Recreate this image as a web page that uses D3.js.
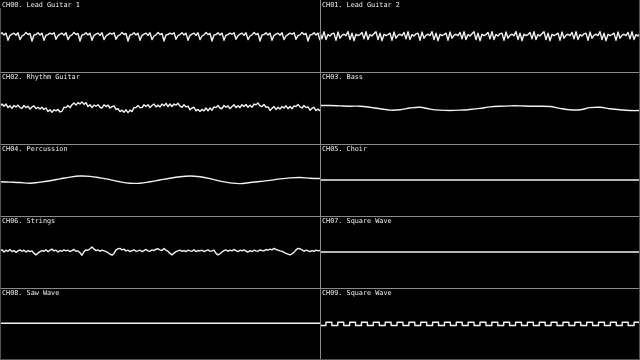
<!DOCTYPE html>
<html>
<head>
<meta charset="utf-8">
<script src="https://cdn.jsdelivr.net/npm/d3@7"></script>
<style>
  html, body { margin: 0; padding: 0; background: #000; }
  svg { display: block; }
</style>
</head>
<body>
<script>
// channel labels, left to right, top to bottom
var channelNames = ["CH00. Lead Guitar 1", "CH01. Lead Guitar 2", "CH02. Rhythm Guitar", "CH03. Bass",
    "CH04. Percussion", "CH05. Choir", "CH06. Strings", "CH07. Square Wave",
    "CH08. Saw Wave", "CH09. Square Wave"];

// sample values, -100..100 (positive = down on the scope)
var leadGuitar1 = [
    -4,-9,-3,-8,12,-2, -5,-8,-2,-9,10,0, -3,-10,-4,-7,14,-3, -4,-9,-3,-8,12,-2,
    -4,-8,-5,-9,9,-1, -5,-8,-2,-9,10,0, -3,-10,-4,-7,14,-3, -4,-9,-3,-8,12,-2,
    -5,-8,-2,-9,10,0, -4,-8,-5,-9,9,-1, -3,-10,-4,-7,14,-3, -4,-9,-3,-8,12,-2,
    -5,-8,-2,-9,10,0, -3,-10,-4,-7,14,-3, -4,-8,-5,-9,9,-1, -4,-9,-3,-8,12,-2,
    -5,-8,-2,-9,10,0, -3,-10,-4,-7,14,-3, -4,-9,-3,-8,12,-2, -4,-8,-5,-9,9,-1,
    -5,-8,-2,-9,10,0, -3,-10,-4,-7,14,-3, -4,-9,-3,-8,12,-2, -5,-8,-2,-9,10,0,
    -4,-8,-5,-9,9,-1, -3,-10,-4,-7,14,-3, -4,-9,-3,-8,12];

var leadGuitar2 = [
    -10,8,-12,10,-4,0,-6, -8,12,-11,6,-2,-5,-1, -12,10,-8,13,-5,-1,-4, -10,8,-12,10,-4,0,-6,
    -12,10,-8,13,-5,-1,-4, -8,12,-11,6,-2,-5,-1, -10,8,-12,10,-4,0,-6, -8,12,-11,6,-2,-5,-1,
    -12,10,-8,13,-5,-1,-4, -8,12,-11,6,-2,-5,-1, -10,8,-12,10,-4,0,-6, -12,10,-8,13,-5,-1,-4,
    -10,8,-12,10,-4,0,-6, -8,12,-11,6,-2,-5,-1, -12,10,-8,13,-5,-1,-4, -10,8,-12,10,-4,0,-6,
    -12,10,-8,13,-5,-1,-4, -8,12,-11,6,-2,-5,-1, -10,8,-12,10,-4,0,-6, -8,12,-11,6,-2,-5,-1,
    -12,10,-8,13,-5,-1,-4, -8,12,-11,6,-2,-5,-1, -10,8,-12,10,-4,0,-6];

var rhythmGuitar = [
    -5,-11,-5,-11,-1,-6,1,-7,-3,-8, -1,1,-7,-1,-5,3,-3,-6,2,-2,
    3,-2,4,0,10,5,12,5,8,4, 11,9,-2,-1,-7,-1,-9,-14,-8,-15,
    -11,-17,-10,-15,-4,-9,-1,-8,-5,-9, -2,0,-9,-4,-8,0,-4,-6,4,2,
    10,6,12,5,13,6,10,-1,-1,-7, -1,-1,-9,-4,-9,-1,-7,-11,-3,-8,
    -3,-11,-6,-13,-4,-11,-4,-11,-8,-13, -5,-2,-9,-3,-5,5,0,-2,8,4,
    10,4,8,0,8,0,6,-3,-1,-7, 0,2,-7,-2,-6,2,-4,-9,-1,-6,
    -1,-9,-4,-10,-2,-8,-2,-11,-9,-14, -6,-4,-10,-2,-3,7,1,-4,4,-2,
    3,-4,0,-6,2,-4,2,-6,-4,-10, -3,0,-7,-1,-3,6,1,-2,7,3, 8];

var bass = [-7,-7,-6,-5,-5,-2,2,6,5,0,-2,3,6,7,6,4,1,-3,-5,-6,-6,-5,-5,-4,1,5,5,-1,-2,2,5,7,7];

var percussion = [5,6,7,9,6,2,-3,-8,-11,-10,-6,-1,5,9,9,5,0,-5,-9,-11,-9,-4,3,8,10,7,4,1,-3,-6,-7,-5,-4];

var choir = [0, 0];

var strings = [
    -3,-6,0,-5,-2,-7,-1,-4,1,-3, -6,-2,-5,0,-4,-1,-3,4,8,3,
    -1,-4,-2,-6,-1,-5,-8,-3,-5,0, -4,-2,-6,-3,-5,-1,-4,-7,-2,-3,
    2,9,-1,-6,-5,-9,-14,-8,-4,-6, -2,-5,-3,-1,2,6,9,4,-6,-9,
    -10,-6,-8,-3,-5,-1,-4,-6,-2,-3, -5,-1,-4,-7,-3,-2,-6,-4,-8,-9,
    -6,-4,-10,-5,-2,4,8,3,-1,-3, -5,-2,-4,-1,-5,-3,-2,-6,-1,-4,
    -3,-5,-1,-4,-6,-2,-3,-5,4,8, 5,0,-4,-6,-2,-5,-3,-7,-4,-1,
    -5,-3,-6,-2,0,-4,-1,-5,-3,-2, -6,-4,-3,-7,-5,-8,-6,-10,-7,-5,
    -3,-2,1,4,6,8,5,1,-6,-10, -9,-6,-2,-5,-3,-1,-4,-2,-5,-3, -4];

var squareWave7 = [0, 0];

var sawWave = [-2, -2];

var squareWave9 = [
    4,-5,4,-5,4,-5,4,-5,4,-5,4,-5,4,-5,4,-5,4,-5,4,-5,4,-5,4,-5,4,-5,4,-5,
    4,-5,4,-5,4,-5,4,-5,4,-5,4,-5,4,-5,4,-5,4,-5,4,-5,4,-5,4,-5,4,-5,4];

var channels = [leadGuitar1, leadGuitar2, rhythmGuitar, bass, percussion,
    choir, strings, squareWave7, sawWave, squareWave9];

var width = 640, height = 360;
var cellW = 320, cellH = 72;

var svg = d3.select("body")
    .append("svg")
    .attr("width", width)
    .attr("height", height);

// grey-only text smoothing (no colour fringes)
svg.append("defs")
    .append("filter")
    .attr("id", "mono")
    .append("feColorMatrix")
    .attr("type", "saturate")
    .attr("values", 0);

svg.append("rect")
    .attr("width", width)
    .attr("height", height)
    .attr("fill", "#000");

var y = d3.scaleLinear().domain([-100, 100]).range([0, cellH]);

var cell = svg.selectAll(".cell")
    .data(channels)
    .enter()
    .append("g")
    .attr("class", "cell")
    .attr("transform", function(d, i) {
        return "translate(" + (i % 2) * cellW + "," + Math.floor(i / 2) * cellH + ")";
    });

// scope lines
cell.append("path")
    .attr("fill", "none")
    .attr("stroke", "#f2f2f2")
    .attr("stroke-width", 1.4)
    .attr("stroke-linejoin", "round")
    .attr("d", function(d, i) {
        var x = d3.scaleLinear().domain([0, d.length - 1]).range([0, cellW]);
        var line = d3.line()
            .x(function(v, j) { return x(j); })
            .y(function(v) { return y(v); })
            .curve(i === 9 ? d3.curveStepAfter : (d.length < 40 ? d3.curveCatmullRom : d3.curveLinear));
        return line(d);
    });

cell.append("text")
    .attr("x", 2)
    .attr("y", 7)
    .attr("filter", "url(#mono)")
    .attr("font-family", "DejaVu Sans Mono, monospace")
    .attr("font-size", 6.8)
    .attr("fill", "#eeeeee")
    .text(function(d, i) { return channelNames[i]; });

// grid dividers
var grid = svg.append("g")
    .attr("stroke", "#8a8a8a")
    .attr("stroke-width", 1)
    .attr("shape-rendering", "crispEdges");

d3.range(1, 5).forEach(function(r) {
    grid.append("line")
        .attr("x1", 0).attr("x2", width)
        .attr("y1", r * cellH + 0.5).attr("y2", r * cellH + 0.5);
});
grid.append("line")
    .attr("x1", cellW + 0.5).attr("x2", cellW + 0.5)
    .attr("y1", 0).attr("y2", height);

var edge = svg.append("g")
    .attr("stroke", "#555")
    .attr("stroke-width", 1)
    .attr("shape-rendering", "crispEdges");
edge.append("line").attr("x1", 0.5).attr("x2", 0.5).attr("y1", 8).attr("y2", height);
edge.append("line").attr("x1", width - 0.5).attr("x2", width - 0.5).attr("y1", 0).attr("y2", height);
edge.append("line").attr("x1", 0).attr("x2", width).attr("y1", height - 0.5).attr("y2", height - 0.5);
</script>
</body>
</html>
